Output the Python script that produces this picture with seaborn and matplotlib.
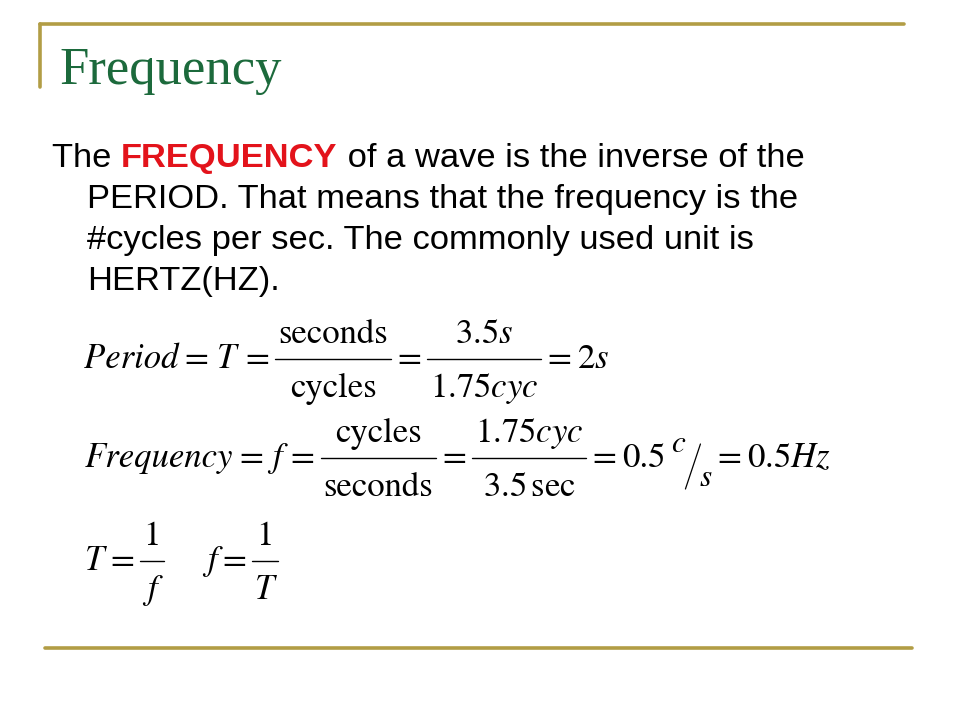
import matplotlib
matplotlib.use("Agg")
import matplotlib.pyplot as plt
import seaborn as sns
import pandas as pd

# ---- content ----
title = "Frequency"
body_runs = [
    [("The ", "black", "normal"), ("FREQUENCY", "#e3131b", "bold"),
     (" of a wave is the inverse of the", "black", "normal")],
    [("PERIOD. That means that the frequency is the", "black", "normal")],
    [("#cycles per sec. The commonly used unit is", "black", "normal")],
    [("HERTZ(HZ).", "black", "normal")],
]
# equation pieces: ("i", italic word), ("r", upright), ("m", mixed math), ("=",) equals,
# ("f", numerator, denominator) fraction, ("cs", upper, lower) slashed unit
eq_period = [("i", "Period"), ("=",), ("i", "T"), ("=",),
             ("f", ("r", "seconds"), ("r", "cycles")), ("=",),
             ("f", ("m", r"$3.5s$"), ("m", r"$1.75cyc$")), ("=",), ("m", r"$2s$")]
eq_freq = [("i", "Frequency"), ("=",), ("i", "f"), ("=",),
           ("f", ("r", "cycles"), ("r", "seconds")), ("=",),
           ("f", ("m", r"$1.75cyc$"), ("m", r"$3.5\,\mathrm{sec}$")), ("=",),
           ("r", "0.5"), ("cs", "c", "s"), ("=",), ("m", r"$0.5Hz$")]
eq_inv1 = [("i", "T"), ("=",), ("f", ("r", "1"), ("i", "f"))]
eq_inv2 = [("i", "f"), ("=",), ("f", ("r", "1"), ("i", "T"))]

# decorative rule lines (pixel coordinates of slide frame)
rules = pd.DataFrame({
    "x": [40, 904, 40, 40, 45, 912],
    "y": [24, 24, 24, 87, 648, 648],
    "seg": ["top", "top", "left", "left", "bottom", "bottom"],
})

sns.set_theme(style="white")
plt.rcParams["mathtext.fontset"] = "stix"

fig = plt.figure(figsize=(9.6, 7.2), dpi=100)
ax = fig.add_axes([0, 0, 1, 1])
ax.set_xlim(0, 960)
ax.set_ylim(720, 0)
ax.axis("off")

gold = "#b29d45"
sns.lineplot(data=rules, x="x", y="y", units="seg", estimator=None,
             color=gold, linewidth=2.6, ax=ax, sort=False)

# title
ax.text(59, 84, title, fontsize=38, family="Liberation Serif",
        color="#1c6a3c", va="baseline", ha="left")

fig.canvas.draw()
r = fig.canvas.get_renderer()


def extent_width(s, **kw):
    t = ax.text(0, 0, s, **kw)
    w = t.get_window_extent(r).width
    t.remove()
    return w


def text_width(s, **kw):
    return extent_width(s + "|", **kw) - extent_width("|", **kw)


body_x = [52, 87, 87, 87]
body_y = [167, 208, 249, 290]
for runs, x0, y0 in zip(body_runs, body_x, body_y):
    x = x0
    for s, c, wt in runs:
        kw = dict(fontsize=24.8, family="Liberation Sans", color=c, fontweight=wt)
        ax.text(x, y0, s, va="baseline", ha="left", **kw)
        x += text_width(s, **kw)

EQFS = 25


def piece_kw(kind, fs=EQFS):
    kw = dict(fontsize=fs, color="black", va="baseline")
    if kind == "i":
        kw.update(family="STIXGeneral", style="italic")
    elif kind == "r":
        kw.update(family="STIXGeneral")
    return kw


def piece_width(p, fs=EQFS):
    kind, s = p
    kw = piece_kw(kind, fs)
    if kind == "m":
        return extent_width(s, **kw)
    return text_width(s, **kw)


def draw_piece(x, y, p, ha="left", fs=EQFS):
    kind, s = p
    ax.text(x, y, s, ha=ha, **piece_kw(kind, fs))


def layout(x0, base, items, gap=3, eqpad=3, letterpad=3):
    bar = base - 9
    x = x0
    for i, it in enumerate(items):
        if i > 0:
            x += gap
        if it[0] in ("i", "r", "m"):
            pad = letterpad if (it[0] == "i" and len(it[1]) == 1 and i > 0) else 0
            x += pad
            draw_piece(x, base, it)
            x += piece_width(it) + pad
        elif it[0] == "=":
            x += eqpad
            p = ("r", "=")
            draw_piece(x, base, p)
            x += piece_width(p) + eqpad
        elif it[0] == "f":
            wn = piece_width(it[1])
            wd = piece_width(it[2])
            w = max(wn, wd) + 6
            ax.plot([x, x + w], [bar, bar], color="black", linewidth=1.0)
            draw_piece(x + w / 2, bar - 16, it[1], ha="center")
            draw_piece(x + w / 2, bar + 38, it[2], ha="center")
            x += w
        elif it[0] == "cs":
            fs = EQFS * 0.9
            x += 3
            pc = ("i", it[1])
            ps = ("i", it[2])
            draw_piece(x, base - 15, pc, fs=fs)
            x += piece_width(pc, fs)
            ax.plot([x, x + 15], [base + 22, base - 23], color="black",
                    linewidth=0.9)
            x += 14
            draw_piece(x, base + 19, ps, fs=fs)
            x += piece_width(ps, fs)


layout(84, 368, eq_period)
layout(85, 467, eq_freq)
layout(85, 570, eq_inv1)
layout(207, 570, eq_inv2)

fig.savefig("out.png", dpi=100)
